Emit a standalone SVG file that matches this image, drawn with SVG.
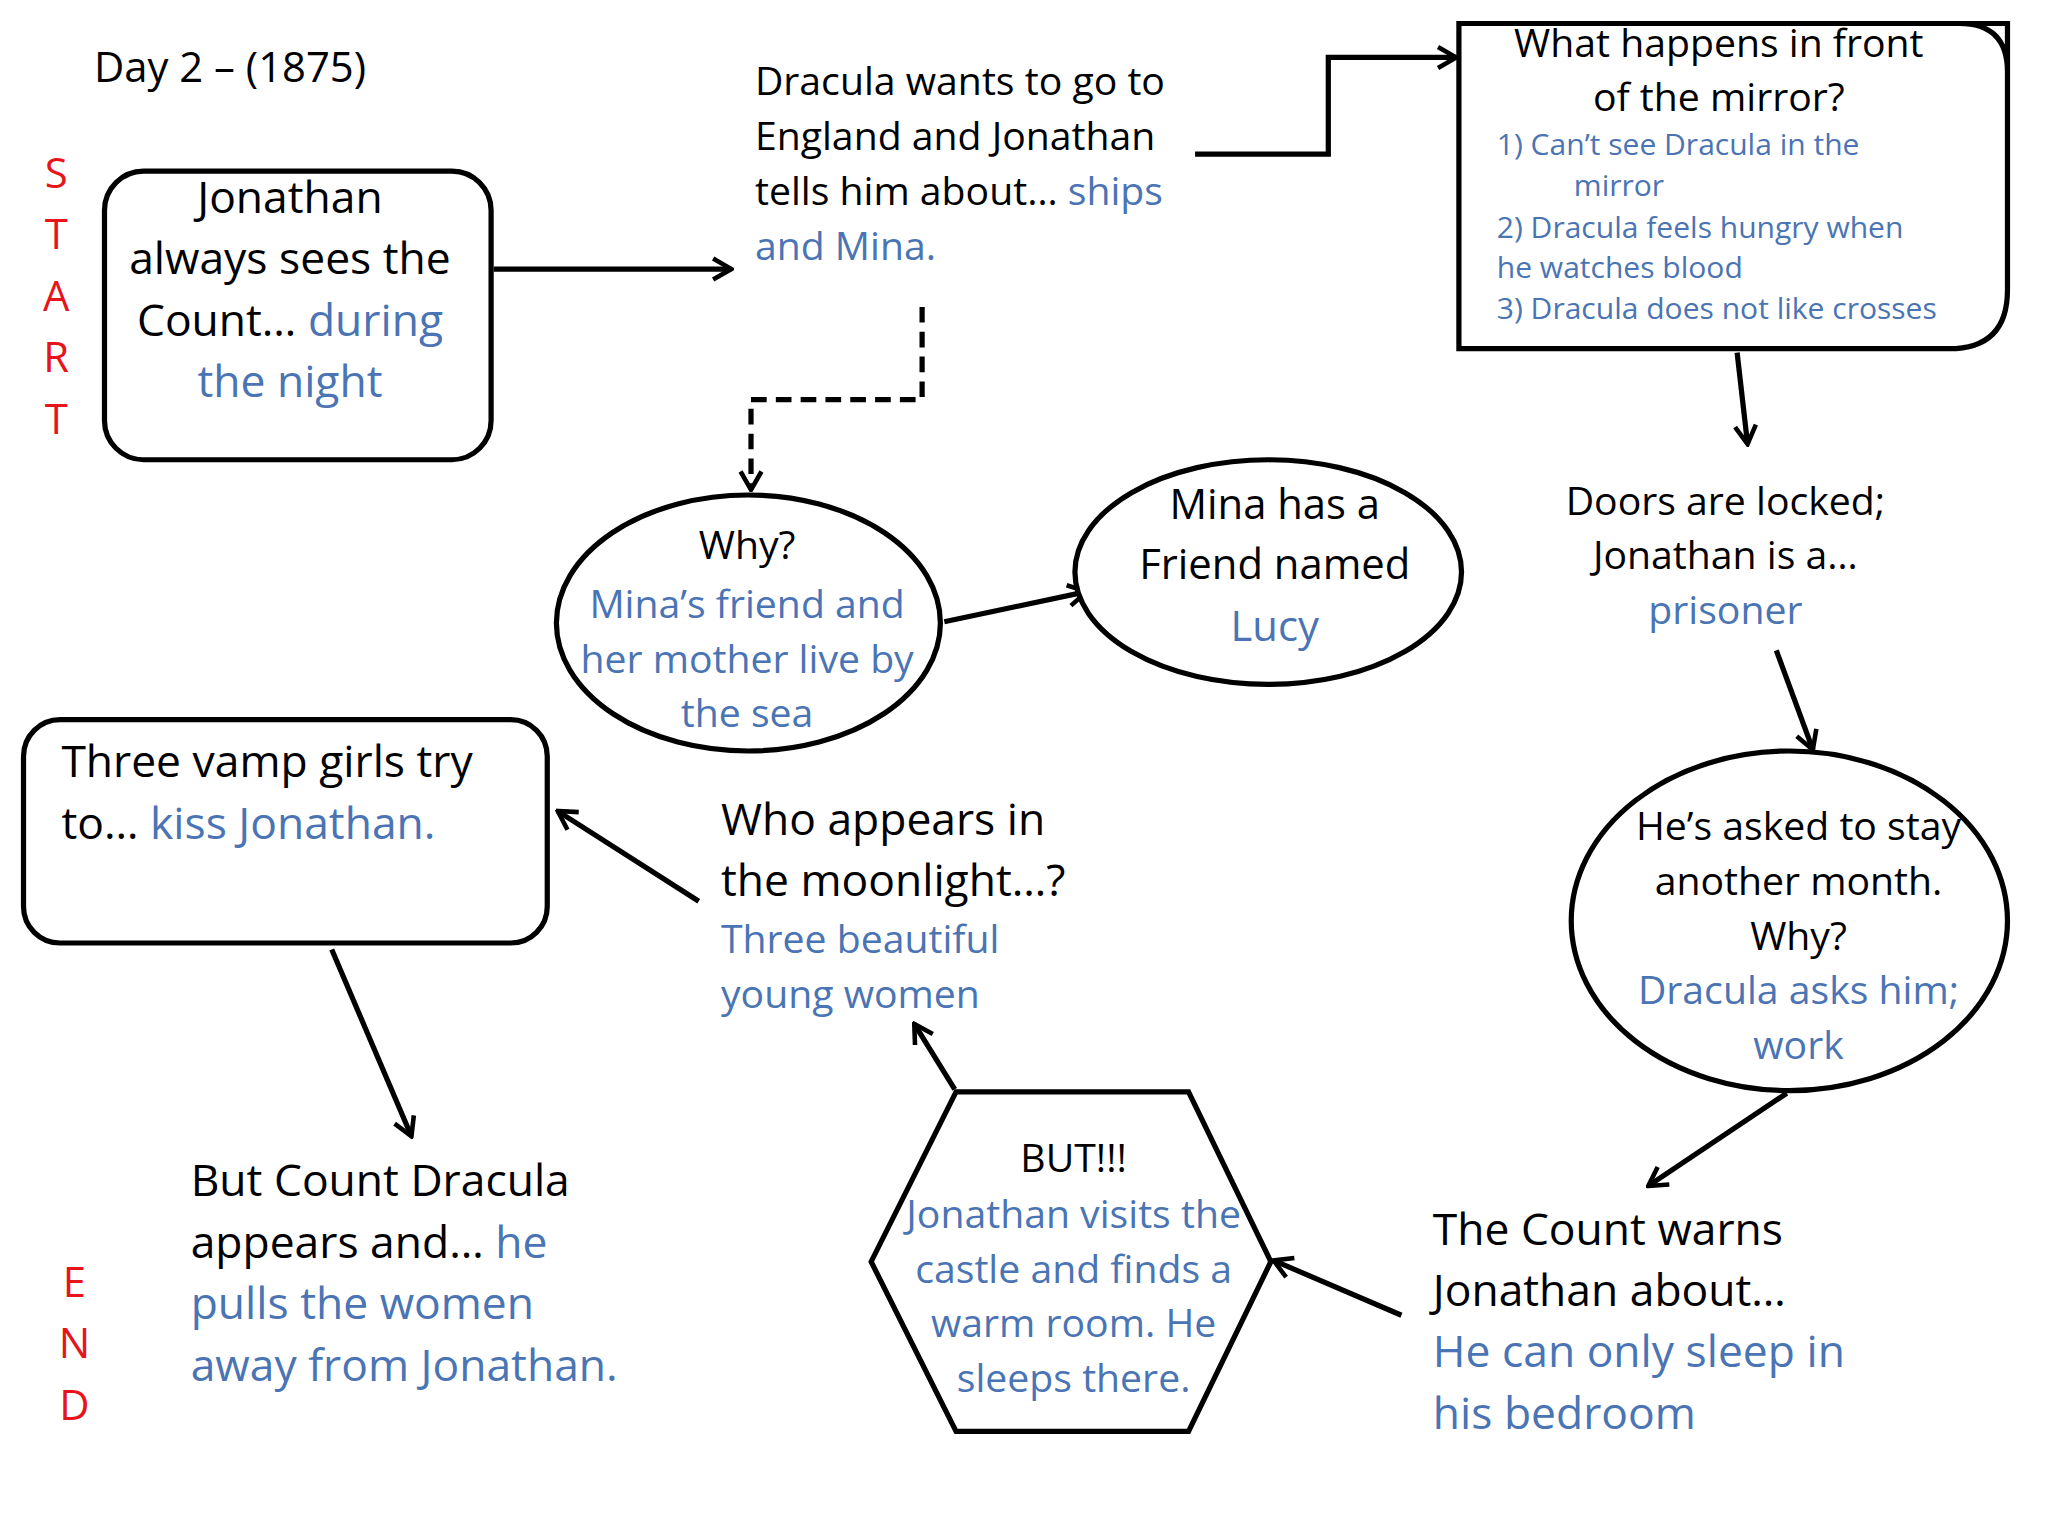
<svg xmlns="http://www.w3.org/2000/svg" width="2048" height="1536" viewBox="0 0 2048 1536">
<style>
text{font-family:"Open Sans","Noto Sans",sans-serif;fill:#000}
.b{fill:#4a74b4}
.r{fill:#e8141c;font-size:32px}
.c{text-anchor:middle}
.s{fill:#fff;stroke:#000;stroke-width:4}
.l{fill:none;stroke:#000;stroke-width:4}
</style>
<defs><marker id="a" viewBox="0 0 20 20" refX="18" refY="10" markerWidth="20" markerHeight="20" markerUnits="userSpaceOnUse" orient="auto"><path d="M4,2 L18,10 L4,18" fill="none" stroke="#000" stroke-width="3.5"/></marker></defs>
<rect width="2048" height="1536" fill="#fff"/>
<g transform="scale(1.3061)">
<text x="72" y="63" style="font-size:32px">Day 2 – (1875)</text>
<g id="start"><text class="r c" x="43" y="144">S</text><text class="r c" x="43" y="191">T</text><text class="r c" x="43" y="238">A</text><text class="r c" x="43" y="285">R</text><text class="r c" x="43" y="332">T</text></g>
<g id="end"><text class="r c" x="57" y="993">E</text><text class="r c" x="57" y="1040">N</text><text class="r c" x="57" y="1087">D</text></g>
<g id="connectors">
<path class="l" marker-end="url(#a)" d="M378,206 H560"/>
<path class="l" marker-end="url(#a)" d="M915,118 H1017 V44 H1115"/>
<path class="l" marker-end="url(#a)" d="M1330,270 L1338,340"/>
<path class="l" marker-end="url(#a)" d="M1360,498 L1388,574"/>
<path class="l" marker-end="url(#a)" d="M1368,837 L1262,908"/>
<path class="l" marker-end="url(#a)" d="M1073,1007 L975,965"/>
<path class="l" marker-end="url(#a)" d="M731,834 L700,784"/>
<path class="l" marker-end="url(#a)" d="M535,690 L427,621"/>
<path class="l" marker-end="url(#a)" d="M254,727 L315,870"/>
<path class="l" marker-end="url(#a)" stroke-dasharray="12,7" d="M706,235 V306 H575 V375"/>
<path class="l" marker-end="url(#a)" d="M723,476 L832,453"/>
</g>
<g id="n1"><rect class="s" x="80" y="131" width="296" height="221" rx="30"/>
<g style="font-size:34px" class="c"><text x="222" y="163">Jonathan</text><text x="222" y="210">always sees the</text><text x="222" y="257">Count… <tspan class="b">during</tspan></text><text class="b c" x="222" y="304">the night</text></g></g>
<g id="n2" style="font-size:30px"><text x="578" y="73">Dracula wants to go to</text><text x="578" y="115">England and Jonathan</text><text x="578" y="157">tells him about… <tspan class="b">ships</tspan></text><text class="b" x="578" y="199">and Mina.</text></g>
<g id="n3"><path class="s" d="M1117,267 V18 H1537 V222 Q1537,267 1492,267 Z M1117,18 H1500 Q1537,18 1537,55"/>
<g style="font-size:30px" class="c"><text x="1316" y="44">What happens in front</text><text x="1316" y="85">of the mirror?</text></g>
<g style="font-size:23px" class="b"><text class="b" x="1146" y="119">1) Can’t see Dracula in the</text><text class="b" x="1205" y="150">mirror</text><text class="b" x="1146" y="182">2) Dracula feels hungry when</text><text class="b" x="1146" y="213">he watches blood</text><text class="b" x="1146" y="244">3) Dracula does not like crosses</text></g></g>
<g id="n4" style="font-size:30px" class="c"><text x="1321" y="394">Doors are locked;</text><text x="1321" y="436">Jonathan is a…</text><text class="b" x="1321" y="478">prisoner</text></g>
<g id="n5"><ellipse class="s" cx="1370" cy="705" rx="167" ry="130"/>
<g style="font-size:30px" class="c"><text x="1377" y="643">He’s asked to stay</text><text x="1377" y="685">another month.</text><text x="1377" y="727">Why?</text><text class="b" x="1377" y="769">Dracula asks him;</text><text class="b" x="1377" y="811">work</text></g></g>
<g id="n6" style="font-size:34px"><text x="1097" y="953">The Count warns</text><text x="1097" y="1000">Jonathan about…</text><text class="b" x="1097" y="1047">He can only sleep in</text><text class="b" x="1097" y="1094">his bedroom</text></g>
<g id="n7"><polygon class="s" points="732,836 910,836 973,966 910,1096 732,1096 667,966"/>
<g style="font-size:30px" class="c"><text x="822" y="897">BUT!!!</text><text class="b" x="822" y="940">Jonathan visits the</text><text class="b" x="822" y="982">castle and finds a</text><text class="b" x="822" y="1024">warm room. He</text><text class="b" x="822" y="1066">sleeps there.</text></g></g>
<g id="n8"><text x="552" y="639" style="font-size:34px">Who appears in</text><text x="552" y="686" style="font-size:34px">the moonlight…?</text><text class="b" x="552" y="730" style="font-size:30px">Three beautiful</text><text class="b" x="552" y="772" style="font-size:30px">young women</text></g>
<g id="n9"><rect class="s" x="18" y="551" width="401" height="171" rx="28"/>
<g style="font-size:34px"><text x="47" y="595">Three vamp girls try</text><text x="47" y="642">to… <tspan class="b">kiss Jonathan.</tspan></text></g></g>
<g id="n10" style="font-size:34px"><text x="146" y="916">But Count Dracula</text><text x="146" y="963">appears and… <tspan class="b">he</tspan></text><text class="b" x="146" y="1010">pulls the women</text><text class="b" x="146" y="1057">away from Jonathan.</text></g>
<g id="n11"><ellipse class="s" cx="573" cy="477" rx="147" ry="98"/>
<g style="font-size:30px" class="c"><text x="572" y="428">Why?</text><text class="b" x="572" y="473">Mina’s friend and</text><text class="b" x="572" y="515">her mother live by</text><text class="b" x="572" y="557">the sea</text></g></g>
<g id="n12"><ellipse class="s" cx="971" cy="438" rx="148" ry="86"/>
<g style="font-size:32px" class="c"><text x="976" y="397">Mina has a</text><text x="976" y="443">Friend named</text><text class="b" x="976" y="491">Lucy</text></g></g>
</g>
</svg>
